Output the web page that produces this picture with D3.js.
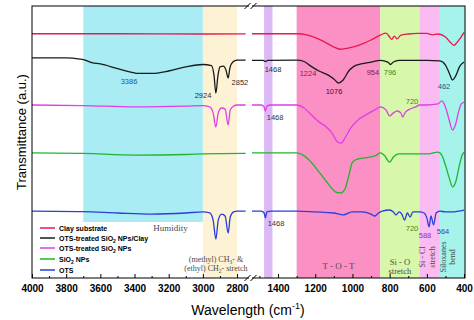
<!DOCTYPE html>
<html>
<head>
<meta charset="utf-8">
<script src="https://cdn.jsdelivr.net/npm/d3@7"></script>
<style>
  body { margin: 0; background: #fff; }
  text { font-family: Arial, "Liberation Sans", sans-serif; }
  .note { font-family: "Liberation Serif", "DejaVu Serif", serif; fill: #4a4a4a; }
</style>
</head>
<body>
<div id="chart"></div>
<script>
// ---- data: [wavenumber (cm-1), transmittance (a.u.)] ----
var clayLeft = [[4000, 89.8], [3500, 89.8], [3000, 89.7], [2750, 89.8]];
var clayRight = [[1540, 89.8], [1300, 89.8], [1240, 89.3], [1200, 88.4], [1150, 86.8], [1100, 84.9], [1066, 84.1],
  [1000, 84.9], [950, 86.0], [900, 87.5], [850, 89.3], [820, 90.0], [800, 88.6], [790, 87.7], [775, 88.9],
  [760, 87.9], [740, 89.3], [700, 89.7], [650, 89.9], [600, 89.9], [570, 89.4], [540, 89.7], [500, 88.6],
  [470, 86.4], [455, 85.5], [440, 86.4], [420, 88.2], [400, 90.3]];

var hybridLeft = [[4000, 80.9], [3800, 80.9], [3720, 80.5], [3700, 80.3], [3650, 79.2], [3600, 78.7],
  [3500, 77.0], [3400, 75.4], [3386, 75.2], [3300, 75.2], [3200, 76.1], [3100, 77.6], [3000, 78.5],
  [2950, 78.1], [2935, 74.6], [2924, 68.0], [2912, 74.3], [2900, 77.6], [2880, 77.9], [2865, 76.5],
  [2852, 73.5], [2842, 77.2], [2825, 79.4], [2800, 80.1], [2750, 80.1]];
var hybridRight = [[1540, 80.0], [1480, 80.0], [1468, 79.6], [1455, 80.0], [1300, 80.1], [1260, 79.6],
  [1224, 77.9], [1180, 76.1], [1130, 74.6], [1100, 73.2], [1076, 71.7], [1050, 72.8], [1020, 76.1],
  [990, 77.9], [954, 78.7], [900, 79.4], [850, 80.0], [810, 79.4], [796, 78.5], [780, 79.4], [750, 80.0],
  [700, 80.0], [600, 80.0], [530, 79.8], [500, 78.3], [480, 75.4], [462, 72.8], [445, 74.3], [425, 77.6],
  [400, 79.4]];

var otsSilicaLeft = [[4000, 63.6], [3700, 63.4], [3400, 62.9], [3100, 63.2], [3000, 63.4], [2960, 62.9],
  [2940, 60.7], [2924, 55.5], [2910, 60.7], [2890, 62.5], [2870, 62.1], [2852, 56.3], [2840, 61.8],
  [2820, 63.2], [2800, 63.6], [2750, 63.6]];
var otsSilicaRight = [[1540, 63.6], [1490, 63.6], [1475, 62.9], [1468, 61.4], [1460, 63.2], [1440, 63.6],
  [1300, 63.6], [1260, 62.5], [1220, 59.9], [1180, 57.4], [1140, 55.5], [1110, 53.3], [1080, 50.0],
  [1060, 49.6], [1040, 51.5], [1010, 55.1], [970, 58.1], [930, 59.9], [880, 61.8], [850, 62.9],
  [820, 61.8], [800, 59.6], [780, 60.7], [760, 61.4], [740, 60.7], [730, 59.2], [715, 61.0], [700, 61.8],
  [660, 62.9], [640, 63.6], [600, 63.6], [540, 64.0], [520, 65.1], [500, 62.9], [480, 58.1], [462, 54.4],
  [445, 56.6], [430, 61.0], [415, 64.0], [400, 64.7]];

var silicaLeft = [[4000, 46.0], [3700, 45.8], [3400, 45.2], [3100, 45.4], [3000, 45.6], [2750, 45.8]];
var silicaRight = [[1540, 46.0], [1300, 46.0], [1260, 44.9], [1233, 43.4], [1180, 39.0], [1130, 34.6],
  [1090, 31.6], [1061, 31.3], [1040, 32.7], [1020, 37.5], [1000, 42.6], [970, 43.8], [900, 44.5],
  [870, 45.2], [850, 46.0], [830, 45.2], [800, 42.6], [780, 44.5], [750, 45.6], [700, 45.6], [600, 45.6],
  [540, 46.3], [520, 45.2], [500, 41.5], [480, 36.8], [462, 33.5], [445, 35.3], [425, 41.5], [410, 45.2],
  [400, 46.3]];

var otsLeft = [[4000, 24.6], [3700, 24.4], [3500, 23.9], [3300, 23.5], [3100, 23.9], [3000, 24.3],
  [2960, 23.9], [2940, 21.3], [2924, 14.3], [2910, 21.3], [2890, 23.5], [2870, 22.8], [2852, 16.5],
  [2840, 22.4], [2820, 24.3], [2800, 24.6], [2750, 24.6]];
var otsRight = [[1540, 24.6], [1490, 24.6], [1475, 23.9], [1468, 22.1], [1460, 24.3], [1440, 24.6],
  [1300, 24.6], [1200, 24.3], [1100, 23.9], [1050, 23.2], [1000, 24.3], [950, 24.3], [900, 23.5],
  [880, 22.8], [860, 23.9], [840, 24.6], [800, 25.0], [780, 24.3], [765, 23.2], [750, 24.3], [735, 23.5],
  [720, 21.3], [705, 23.9], [690, 22.4], [675, 24.3], [640, 24.3], [615, 23.9], [600, 22.1], [588, 18.8],
  [578, 22.8], [564, 19.5], [550, 23.9], [530, 24.6], [500, 24.3], [460, 24.3], [430, 24.6], [400, 25.0]];

var seriesNames = ["Clay substrate", "OTS-treated SiO2 NPs/Clay", "OTS-treated SiO2 NPs", "SiO2 NPs", "OTS"];
var seriesColors = ["#e8194f", "#1a1a1a", "#e03ee6", "#1fb52e", "#2b3ddc"];

// shaded bands [from, to] in cm-1
var bandsLeft = [[3700, 3000], [3000, 2800]];
var bandsRight = [[1475, 1430], [1300, 850], [850, 640], [640, 530], [530, 395]];
var bandColorsLeft = ["#a9ecf4", "#fdf3d4"];
var bandColorsRight = ["#dcb8f4", "#fb90c4", "#d7f7ab", "#f9bbf1", "#a6f3ec"];
var humidityBandFloor = 20.6;

var ticksLeft = [4000, 3800, 3600, 3400, 3200, 3000, 2800];
var ticksRight = [1400, 1200, 1000, 800, 600, 400];

// peak labels: text, position (cm-1, a.u.), colour
var peakLabels = [
  ["3386", 3432, 71.3, "#1f5a8a", "L"], ["2924", 2999, 66.2, "#2a2a2a", "L"], ["2852", 2783, 71.0, "#2a2a2a", "L"],
  ["1468", 1427, 75.7, "#2a2a3a", "R"], ["1224", 1239, 74.3, "#8b1c3c", "R"], ["1076", 1099, 67.6, "#4a1222", "R"],
  ["954", 890, 74.6, "#8b1c3c", "R"], ["796", 798, 74.6, "#3a8a2a", "R"], ["462", 508, 69.5, "#1f5a8a", "R"],
  ["720", 680, 64.0, "#3a8a2a", "R"], ["1468", 1416, 58.1, "#333", "R"], ["1468", 1411, 19.1, "#333", "R"],
  ["720", 680, 17.3, "#3a8a2a", "R"], ["588", 610, 14.7, "#9030c0", "R"], ["564", 513, 16.2, "#3545a8", "R"]
];

// ---- layout ----
var margin = {top: 6, right: 9, bottom: 42, left: 32},
    width = 474 - margin.left - margin.right,
    height = 320 - margin.top - margin.bottom;

var svg = d3.select("#chart").append("svg")
    .attr("width", 474)
    .attr("height", 320)
  .append("g")
    .attr("transform", "translate(" + margin.left + "," + margin.top + ")");

var xL = d3.scaleLinear().domain([4000, 2750]).range([0, 213.6]);
var xR = d3.scaleLinear().domain([1540, 395]).range([220, width]);
var y = d3.scaleLinear().domain([0, 100]).range([height, 0]);

// bands
bandsLeft.forEach(function(b, i) {
  var bottom = i == 0 ? y(humidityBandFloor) : height;
  svg.append("rect")
    .attr("x", xL(b[0])).attr("width", xL(b[1]) - xL(b[0]))
    .attr("y", 0).attr("height", bottom)
    .attr("fill", bandColorsLeft[i]);
});
bandsRight.forEach(function(b, i) {
  svg.append("rect")
    .attr("x", xR(b[0])).attr("width", Math.min(xR(b[1]), width) - xR(b[0]))
    .attr("y", 0).attr("height", height)
    .attr("fill", bandColorsRight[i]);
});

// curves
var lineL = d3.line().x(function(d) { return xL(d[0]); }).y(function(d) { return y(d[1]); }).curve(d3.curveMonotoneX);
var lineR = d3.line().x(function(d) { return xR(d[0]); }).y(function(d) { return y(d[1]); }).curve(d3.curveMonotoneX);

var segments = [
  [clayLeft, clayRight], [hybridLeft, hybridRight], [otsSilicaLeft, otsSilicaRight],
  [silicaLeft, silicaRight], [otsLeft, otsRight]
];
segments.forEach(function(s, i) {
  svg.append("path").datum(s[0]).attr("d", lineL)
    .attr("fill", "none").attr("stroke", seriesColors[i]).attr("stroke-width", 1.3);
  svg.append("path").datum(s[1]).attr("d", lineR)
    .attr("fill", "none").attr("stroke", seriesColors[i]).attr("stroke-width", 1.3);
});

// peak labels
peakLabels.forEach(function(p) {
  var sx = p[4] == "L" ? xL : xR;
  svg.append("text")
    .attr("x", sx(p[1])).attr("y", y(p[2]))
    .attr("text-anchor", "middle")
    .style("font-size", "7.5px")
    .attr("fill", p[3])
    .text(p[0]);
});

// region notes (serif)
function note(x, yy, txt, size) {
  return svg.append("text").attr("class", "note")
    .attr("x", x).attr("y", yy).attr("text-anchor", "middle")
    .style("font-size", (size || 8.5) + "px").text(txt);
}
note(xL(3190), 225, "Humidity", 9);
var m1 = note(xL(2900) - 4, 256, "(methyl) CH", 8);
m1.append("tspan").attr("dy", 2).style("font-size", "5.5px").text("3");
m1.append("tspan").attr("dy", -2).text("- &");
var m2 = note(xL(2900) - 4, 265, "(ethyl) CH", 8);
m2.append("tspan").attr("dy", 2).style("font-size", "5.5px").text("2");
m2.append("tspan").attr("dy", -2).text("- stretch");
note(xR(1075), 263, "T - O - T", 9);
note(xR(745), 259, "Si - O", 8.5);
note(xR(745), 268, "stretch", 8.5);

function vnote(x, yy, txt) {
  svg.append("text").attr("class", "note")
    .attr("transform", "translate(" + x + "," + yy + ") rotate(-90)")
    .attr("text-anchor", "middle")
    .style("font-size", "8px").text(txt);
}
vnote(xR(612), 251, "Si - Cl");
vnote(xR(558), 251, "stretch");
vnote(xR(498), 251, "Siloxanes");
vnote(xR(450), 251, "bend");

// axes (ticks inward)
function addAxis(scale, major, minor) {
  svg.append("g").attr("transform", "translate(0," + height + ")")
    .call(d3.axisBottom(scale).tickValues(minor).tickSize(-2).tickFormat(""))
    .call(function(g) { g.select(".domain").remove(); });
  var ax = svg.append("g").attr("transform", "translate(0," + height + ")")
    .call(d3.axisBottom(scale).tickValues(major).tickSize(-4).tickPadding(7).tickFormat(d3.format("d")));
  ax.select(".domain").remove();
  ax.selectAll("text").style("font-size", "10px").style("font-weight", "bold")
    .style("font-family", "Arial, 'Liberation Sans', sans-serif").attr("fill", "#000");
}
addAxis(xL, ticksLeft, [3900, 3700, 3500, 3300, 3100, 2900]);
addAxis(xR, ticksRight, [1500, 1300, 1100, 900, 700, 500]);

// frame
svg.append("rect").attr("width", width).attr("height", height)
  .attr("fill", "none").attr("stroke", "#000").attr("stroke-width", 1);

// axis breaks
[0, height].forEach(function(yy) {
  svg.append("rect").attr("x", 217).attr("y", yy - 2).attr("width", 3).attr("height", 4).attr("fill", "#fff");
  [215.5, 221.5].forEach(function(bx) {
    svg.append("line")
      .attr("x1", bx - 3).attr("y1", yy + 3).attr("x2", bx + 3).attr("y2", yy - 3)
      .attr("stroke", "#000").attr("stroke-width", 1);
  });
});

// legend
var legend = svg.append("g").attr("transform", "translate(8,222)");
seriesNames.forEach(function(name, i) {
  var row = legend.append("g").attr("transform", "translate(0," + [0, 10, 20, 31, 42][i] + ")");
  row.append("line").attr("x1", 0).attr("x2", 15).attr("y1", 0).attr("y2", 0)
    .attr("stroke", seriesColors[i]).attr("stroke-width", 1.5);
  var t = row.append("text").attr("x", 19).attr("y", 2.5)
    .style("font-size", "7px").style("font-weight", "bold");
  var parts = name.split("SiO2");
  t.append("tspan").text(parts[0]);
  if (parts.length > 1) {
    t.append("tspan").text("SiO");
    t.append("tspan").attr("dy", 2).style("font-size", "5px").text("2");
    t.append("tspan").attr("dy", -2).text(parts[1]);
  }
});

// axis titles
svg.append("text")
  .attr("transform", "rotate(-90)")
  .attr("x", -height / 2 + 10).attr("y", -19)
  .attr("dy", "1em")
  .style("text-anchor", "middle").style("font-size", "13px")
  .text("Transmittance (a.u.)");

var xt = svg.append("text")
  .attr("x", 216).attr("y", height + 37)
  .style("text-anchor", "middle").style("font-size", "14px")
  .text("Wavelength (cm");
xt.append("tspan").attr("dy", -6).style("font-size", "9px").text("-1");
xt.append("tspan").attr("dy", 6).text(")");
</script>
</body>
</html>
